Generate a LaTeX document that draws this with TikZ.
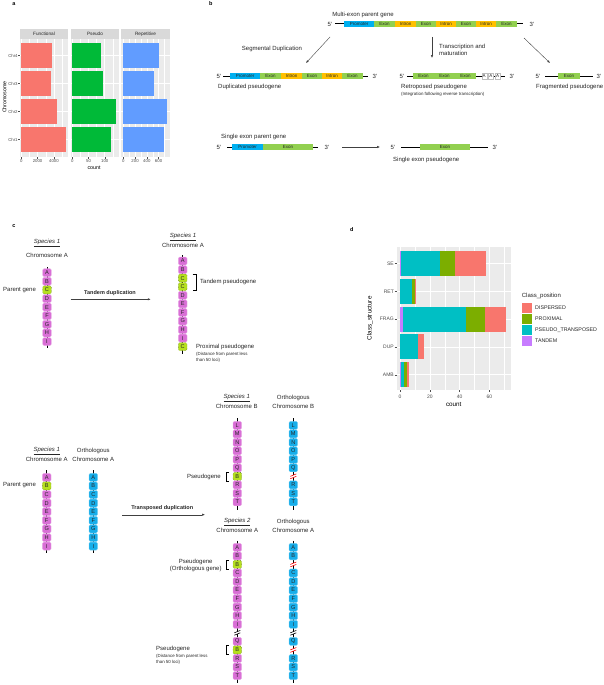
\documentclass[tikz,border=0pt]{standalone}
\usepackage{fontspec}
\setmainfont{Liberation Sans}
\usetikzlibrary{arrows.meta}

\definecolor{promcol}{HTML}{00B0F0}
\definecolor{exoncol}{HTML}{92D050}
\definecolor{introncol}{HTML}{FFC000}
\definecolor{chrpink}{HTML}{D96FD6}
\definecolor{chrgreen}{HTML}{B6E01F}
\definecolor{chrblue}{HTML}{17AEEA}
\definecolor{funccol}{HTML}{F8766D}
\definecolor{pseudocol}{HTML}{00BA38}
\definecolor{repcol}{HTML}{619CFF}
\definecolor{dispcol}{HTML}{F8766D}
\definecolor{proxcol}{HTML}{7CAE00}
\definecolor{ptcol}{HTML}{00BFC4}
\definecolor{tandcol}{HTML}{C77CFF}
\definecolor{panelbg}{HTML}{EBEBEB}
\definecolor{stripbg}{HTML}{D9D9D9}
\definecolor{tickcol}{HTML}{4D4D4D}
\definecolor{txtcol}{HTML}{262626}

\tikzset{
  plabel/.style={inner sep=0pt,text=txtcol,font=\fontsize{6}{7.5}\selectfont},
  pnote/.style={inner sep=0pt,text=txtcol,font=\fontsize{4.4}{6}\selectfont},
  pbold/.style={inner sep=0pt,text=txtcol,font=\bfseries\fontsize{5.5}{6}\selectfont},
  pletter/.style={inner sep=0pt,font=\bfseries\fontsize{5.5}{6}\selectfont},
  genebox/.style={rectangle,minimum height=5.5pt,inner sep=0pt,text=txtcol,font=\fontsize{4.5}{5}\selectfont},
  promoter/.style={genebox,fill=promcol},
  exon/.style={genebox,fill=exoncol},
  intron/.style={genebox,fill=introncol},
  polya/.style={genebox,minimum width=5pt,fill=white,draw=gray!50,line width=0.25pt},
  geneline/.style={line width=1pt},
  chrbox/.style={rectangle,rounded corners=1.3pt,minimum width=8.6pt,minimum height=8pt,inner sep=0pt,text=txtcol,font=\fontsize{5.6}{6}\selectfont},
  pbox/.style={chrbox,fill=chrpink,draw=chrpink!55!white,line width=0.3pt},
  bbox/.style={chrbox,fill=chrblue,draw=chrblue!55!white,line width=0.3pt},
  gbox/.style={chrbox,fill=chrgreen,draw=chrgreen!45!black,densely dotted,line width=0.4pt},
  chrline/.style={line width=0.9pt},
  flow/.style={draw=black!75,line width=0.4pt,-{Latex[length=2.8pt,width=2.2pt]}},
  bracket/.style={line width=0.4pt},
  gridmaj/.style={white,line width=0.5pt},
  gridmin/.style={white,line width=0.25pt},
  ggtick/.style={tickcol,line width=0.4pt},
  ggtext/.style={inner sep=0pt,text=tickcol,font=\fontsize{4.3}{5}\selectfont},
  ggtitle/.style={inner sep=0pt,text=black,font=\fontsize{5.3}{6}\selectfont},
  ggstrip/.style={inner sep=0pt,text=txtcol,font=\fontsize{4.7}{5}\selectfont},
  ddtext/.style={inner sep=0pt,text=tickcol,font=\fontsize{5}{6}\selectfont},
  ddlegend/.style={inner sep=0pt,text=txtcol,font=\fontsize{5.3}{6}\selectfont},
  brk/.pic={
    \fill[white] (-1.2,-0.72) -- (1.2,-1.68) -- (1.2,0.72) -- (-1.2,1.68) -- cycle;
    \draw[line width=0.6pt] (-3,0) -- (3,-2.4);
    \draw[line width=0.6pt] (-3,2.4) -- (3,0);
  }
}

\begin{document}
\begin{tikzpicture}[x=1pt,y=-1pt]
\useasboundingbox[fill=white] (0,0) rectangle (604,685);

\node[pletter] (la) at (14,4) {a};
\fill[stripbg] (20,29.3) rectangle (68,38.7);
\fill[stripbg] (71,29.3) rectangle (119,38.7);
\fill[stripbg] (121,29.3) rectangle (170,38.7);
\node[ggstrip] (sfunc) at (44,34) {Functional};
\node[ggstrip] (spseudo) at (95,34) {Pseudo};
\node[ggstrip] (srep) at (145.5,34) {Repetitive};
\fill[panelbg] (20,39) rectangle (68,157);
\fill[panelbg] (71,39) rectangle (119,157);
\fill[panelbg] (121,39) rectangle (170,157);
\foreach \r in {55.5,83.5,111.5,139.5} {
  \draw[gridmaj] (20,\r) -- (68,\r);
  \draw[gridmaj] (71,\r) -- (119,\r);
  \draw[gridmaj] (121,\r) -- (170,\r);
}
\foreach \r/\t in {55.5/Chr4,83.5/Chr3,111.5/Chr2,139.5/Chr1} {
  \draw[ggtick] (18.3,\r) -- (20,\r);
  \node[ggtext,anchor=east] (y\t) at (17.8,\r) {\t};
}
\begin{scope}[shift={(21.3,0)},x=8.15pt]
\foreach \v in {1,3,5} \draw[gridmin] (\v,39) -- (\v,157);
\foreach \v in {0,2,4} \draw[gridmaj] (\v,39) -- (\v,157);
\fill[funccol] (0,43) rectangle (3.77,68);
\fill[funccol] (0,71) rectangle (3.65,96);
\fill[funccol] (0,99) rectangle (4.38,124);
\fill[funccol] (0,127) rectangle (5.48,152);
\foreach \v/\t in {0/0,2/2000,4/4000} {
  \draw[ggtick] (\v,157) -- (\v,158.8);
  \node[ggtext] (fx\v) at (\v,161.5) {\t};
}
\end{scope}
\begin{scope}[shift={(72.3,0)},x=0.324pt]
\foreach \v in {25,75,125} \draw[gridmin] (\v,39) -- (\v,157);
\foreach \v in {0,50,100} \draw[gridmaj] (\v,39) -- (\v,157);
\fill[pseudocol] (0,43) rectangle (88.5,68);
\fill[pseudocol] (0,71) rectangle (94.6,96);
\fill[pseudocol] (0,99) rectangle (136,124);
\fill[pseudocol] (0,127) rectangle (118.5,152);
\foreach \v in {0,50,100} {
  \draw[ggtick] (\v,157) -- (\v,158.8);
  \node[ggtext] (px\v) at (\v,161.5) {\v};
}
\end{scope}
\begin{scope}[shift={(123.3,0)},x=0.0588pt]
\foreach \v in {100,300,500,700} \draw[gridmin] (\v,39) -- (\v,157);
\foreach \v in {0,200,400,600} \draw[gridmaj] (\v,39) -- (\v,157);
\fill[repcol] (0,43) rectangle (600,68);
\fill[repcol] (0,71) rectangle (515,96);
\fill[repcol] (0,99) rectangle (740,124);
\fill[repcol] (0,127) rectangle (700,152);
\foreach \v in {0,200,400,600} {
  \draw[ggtick] (\v,157) -- (\v,158.8);
  \node[ggtext] (rx\v) at (\v,161.5) {\v};
}
\end{scope}
\node[ggtitle] (acount) at (94,167.5) {count};
\node[ggtitle,rotate=90] (achrom) at (4.5,97) {Chromosome};

\node[pletter] (lb) at (210.7,4) {b};
\node[plabel] (mtitle) at (363,15) {Multi-exon parent gene};
\node[plabel] (m5) at (330,24) {5'};
\coordinate (m5e) at (335,24);
\coordinate (m3e) at (523,24);
\node[plabel] (m3) at (532,24) {3'};
\draw[geneline] (m5e) -- (m3e);
\node[promoter,minimum width=30pt] (m1) at (359,24) {Promoter};
\node[exon,minimum width=21pt] (m2) at (384.5,24) {Exon};
\node[intron,minimum width=21pt] (m3i) at (405.5,24) {Intron};
\node[exon,minimum width=20pt] (m4) at (426,24) {Exon};
\node[intron,minimum width=20pt] (m5i) at (446,24) {Intron};
\node[exon,minimum width=20pt] (m6) at (466,24) {Exon};
\node[intron,minimum width=20pt] (m7i) at (486,24) {Intron};
\node[exon,minimum width=21pt] (m8) at (506.5,24) {Exon};

\coordinate (segs) at (330,37);
\coordinate (sege) at (306,63);
\draw[flow] (segs) -- (sege);
\node[plabel] (seglbl) at (272,49) {Segmental Duplication};
\coordinate (trs) at (432,37);
\coordinate (tre) at (432,58);
\draw[flow] (trs) -- (tre);
\node[plabel,anchor=west,align=left] (trlbl) at (439,50) {Transcription and\\maturation};
\coordinate (frs) at (524,38);
\coordinate (fre) at (550,63);
\draw[flow] (frs) -- (fre);

\node[plabel] (dup5) at (219,76) {5'};
\coordinate (dup5e) at (223,76);
\coordinate (dup3e) at (368,76);
\node[plabel] (dup3) at (375,76) {3'};
\draw[geneline] (dup5e) -- (dup3e);
\node[promoter,minimum width=30pt] (dup1) at (245,76) {Promoter};
\node[exon,minimum width=21pt] (dup2) at (270.5,76) {Exon};
\node[intron,minimum width=21pt] (dup3i) at (291.5,76) {Intron};
\node[exon,minimum width=20pt] (dup4) at (312,76) {Exon};
\node[intron,minimum width=20pt] (dup5i) at (332,76) {Intron};
\node[exon,minimum width=21pt] (dup6) at (352.5,76) {Exon};
\node[plabel,anchor=west] (duplbl) at (218,87) {Duplicated pseudogene};

\node[plabel] (ret5) at (402,76) {5'};
\coordinate (ret5e) at (407,76);
\coordinate (ret3e) at (505,76);
\node[plabel] (ret3) at (512,76) {3'};
\draw[geneline] (ret5e) -- (ret3e);
\node[exon,minimum width=21pt] (ret1) at (423.5,76) {Exon};
\node[exon,minimum width=21pt] (ret2) at (444.5,76) {Exon};
\node[exon,minimum width=21pt] (ret3x) at (465.5,76) {Exon};
\node[polya] (reta1) at (484.2,76) {A};
\node[polya] (reta2) at (490.8,76) {A};
\node[polya] (reta3) at (497.5,76) {A};
\node[plabel,anchor=west] (retlbl) at (401,87) {Retroposed pseudogene};
\node[pnote,anchor=west] (retnote) at (401,94.3) {(Integration following reverse transcription)};

\node[plabel] (frg5) at (538,76) {5'};
\coordinate (frg5e) at (545,76);
\coordinate (frg3e) at (593,76);
\node[plabel] (frg3) at (599,76) {3'};
\draw[geneline] (frg5e) -- (frg3e);
\node[exon,minimum width=22pt] (frg1) at (569,76) {Exon};
\node[plabel,anchor=west] (frglbl) at (536,87) {Fragmented pseudogene};

\node[plabel,anchor=west] (sglbl) at (221,137) {Single exon parent gene};
\node[plabel] (sg5) at (219,147) {5'};
\coordinate (sg5e) at (227,147);
\coordinate (sg3e) at (318,147);
\node[plabel] (sg3) at (327,147) {3'};
\draw[geneline] (sg5e) -- (sg3e);
\node[promoter,minimum width=31pt] (sg1) at (247.5,147) {Promoter};
\node[exon,minimum width=50pt] (sg2) at (288,147) {Exon};
\coordinate (sgs) at (342,147);
\coordinate (sge) at (380,147);
\draw[flow] (sgs) -- (sge);
\node[plabel] (sp5) at (393,147) {5'};
\coordinate (sp5e) at (401,147);
\coordinate (sp3e) at (488,147);
\node[plabel] (sp3) at (495,147) {3'};
\draw[geneline] (sp5e) -- (sp3e);
\node[exon,minimum width=50pt] (sp1) at (445,147) {Exon};
\node[plabel,anchor=west] (splbl) at (393,160) {Single exon pseudogene};

\node[pletter] (lc) at (14,226) {c};
\node[plabel] (c1sp) at (47,243) {\underline{\itshape Species 1}};
\node[plabel] (c1ch) at (47,255) {Chromosome A};
\coordinate (c1t) at (47,267);
\coordinate (c1b) at (47,348);
\draw[chrline] (c1t) -- (c1b);
\foreach \l/\s [count=\i from 0] in {A/pbox,B/pbox,C/gbox,D/pbox,E/pbox,F/pbox,G/pbox,H/pbox,I/pbox}
  \node[\s] (c1g\i) at (47,{272.7+8.6*\i}) {\l};
\node[plabel,anchor=west] (c1par) at (3,290) {Parent gene};
\node[pbold] (tdlbl) at (110,293) {Tandem duplication};
\coordinate (tds) at (70.7,299.3);
\coordinate (tde) at (150.7,299.3);
\draw[flow] (tds) -- (tde);

\node[plabel] (c2sp) at (183,236.7) {\underline{\itshape Species 1}};
\node[plabel] (c2ch) at (183,245.7) {Chromosome A};
\coordinate (c2t) at (182.7,255);
\coordinate (c2b) at (182.7,354);
\draw[chrline] (c2t) -- (c2b);
\foreach \l/\s [count=\i from 0] in {A/pbox,B/pbox,C/gbox,C/gbox,D/pbox,E/pbox,F/pbox,G/pbox,H/pbox,I/pbox,C/gbox}
  \node[\s] (c2g\i) at (182.7,{261+8.57*\i}) {\l};
\draw[bracket] (192.5,274) -- (196.5,274) -- (196.5,290) -- (192.5,290);
\node[plabel,anchor=west] (tdpse) at (200,281.7) {Tandem pseudogene};
\node[plabel,anchor=west] (prpse) at (196,347.3) {Proximal pseudogene};
\node[pnote,anchor=north west,align=left] (prnote) at (196,352.5) {(Distance from parent less\\than 50 loci)};

\node[plabel] (c3sp) at (46.7,451) {\underline{\itshape Species 1}};
\node[plabel] (c3ch) at (46.7,459.3) {Chromosome A};
\coordinate (c3t) at (46.7,470);
\coordinate (c3b) at (46.7,553.3);
\draw[chrline] (c3t) -- (c3b);
\foreach \l/\s [count=\i from 0] in {A/pbox,B/gbox,C/pbox,D/pbox,E/pbox,F/pbox,G/pbox,H/pbox,I/pbox}
  \node[\s] (c3g\i) at (46.7,{477.3+8.6*\i}) {\l};
\node[plabel,anchor=west] (c3par) at (3,485) {Parent gene};
\node[plabel] (c4or) at (93.3,451) {Orthologous};
\node[plabel] (c4ch) at (93.3,459.3) {Chromosome A};
\coordinate (c4t) at (93.3,470);
\coordinate (c4b) at (93.3,553.3);
\draw[chrline] (c4t) -- (c4b);
\foreach \l [count=\i from 0] in {A,B,C,D,E,F,G,H,I}
  \node[bbox] (c4g\i) at (93.3,{477.3+8.6*\i}) {\l};
\node[pbold] (trlbl2) at (162.3,508.3) {Transposed duplication};
\coordinate (tps) at (122,514.7);
\coordinate (tpe) at (205,514.7);
\draw[flow] (tps) -- (tpe);

\node[plabel] (c5sp) at (236.7,398.3) {\underline{\itshape Species 1}};
\node[plabel] (c5ch) at (236.7,406.7) {Chromosome B};
\coordinate (c5t) at (237.3,418.3);
\coordinate (c5b) at (237.3,510);
\draw[chrline] (c5t) -- (c5b);
\foreach \l/\s [count=\i from 0] in {L/pbox,M/pbox,N/pbox,O/pbox,P/pbox,Q/pbox,B/gbox,R/pbox,S/pbox,T/pbox}
  \node[\s] (c5g\i) at (237.3,{425.3+8.5*\i}) {\l};
\draw[bracket] (229,472) -- (226.5,472) -- (226.5,481) -- (229,481);
\node[plabel,anchor=east] (c5pse) at (221,476.7) {Pseudogene};
\node[plabel] (c6or) at (293.3,398.3) {Orthologous};
\node[plabel] (c6ch) at (293.3,406.7) {Chromosome B};
\coordinate (c6t) at (293.3,418.3);
\coordinate (c6b) at (293.3,510);
\draw[chrline] (c6t) -- (c6b);
\foreach \l/\k in {L/0,M/1,N/2,O/3,P/4,Q/5,R/7,S/8,T/9}
  \node[bbox] (c6g\k) at (293.3,{425.3+8.5*\k}) {\l};
\pic[red] at (293.3,476.3) {brk};

\node[plabel] (c7sp) at (237.3,521.7) {\underline{\itshape Species 2}};
\node[plabel] (c7ch) at (237.3,530) {Chromosome A};
\coordinate (c7t) at (237.3,540.7);
\coordinate (c7b) at (237.3,683.3);
\draw[chrline] (c7t) -- (c7b);
\foreach \l/\s/\k in {A/pbox/0,B/pbox/1,B/gbox/2,C/pbox/3,D/pbox/4,E/pbox/5,F/pbox/6,G/pbox/7,H/pbox/8,I/pbox/9,Q/pbox/11,B/gbox/12,R/pbox/13,S/pbox/14,T/pbox/15}
  \node[\s] (c7g\k) at (237.3,{547.3+8.55*\k}) {\l};
\pic at (237.3,632.8) {brk};
\draw[bracket] (229,560) -- (226.5,560) -- (226.5,569) -- (229,569);
\node[plabel,align=center] (c7pse) at (195.7,565.5) {Pseudogene\\(Orthologous gene)};
\draw[bracket] (229,645.5) -- (226.5,645.5) -- (226.5,654.5) -- (229,654.5);
\node[plabel,anchor=west] (c7pse2) at (156,649.3) {Pseudogene};
\node[pnote,anchor=north west,align=left] (c7note) at (156,654.5) {(Distance from parent less\\than 50 loci)};
\node[plabel] (c8or) at (293.3,521.7) {Orthologous};
\node[plabel] (c8ch) at (293.3,530) {Chromosome A};
\coordinate (c8t) at (293.3,540.7);
\coordinate (c8b) at (293.3,683.3);
\draw[chrline] (c8t) -- (c8b);
\foreach \l/\k in {A/0,B/1,C/3,D/4,E/5,F/6,G/7,H/8,I/9,Q/11,R/13,S/14,T/15}
  \node[bbox] (c8g\k) at (293.3,{547.3+8.55*\k}) {\l};
\pic[red] at (293.3,564.4) {brk};
\pic at (293.3,632.8) {brk};
\pic[red] at (293.3,649.9) {brk};

\node[pletter] (ld) at (351.7,230) {d};
\fill[panelbg] (396.7,246.7) rectangle (510.7,390);
\foreach \r/\t in {263.5/SE,291.3/RET,319.1/FRAG,346.9/DUP,374.7/AMB} {
  \draw[gridmaj] (396.7,\r) -- (510.7,\r);
  \draw[ggtick] (394.6,\r) -- (396.7,\r);
  \node[ddtext,anchor=east] (dy\t) at (394,\r) {\t};
}
\begin{scope}[shift={(400,0)},x=1.49pt]
\foreach \v in {10,30,50,70} \draw[gridmin] (\v,246.7) -- (\v,390);
\foreach \v in {0,20,40,60} {
  \draw[gridmaj] (\v,246.7) -- (\v,390);
  \draw[ggtick] (\v,390) -- (\v,392);
  \node[ddtext] (dx\v) at (\v,396.5) {\v};
}
\fill[tandcol] (0,251) rectangle (1,276);
\fill[ptcol] (1,251) rectangle (27,276);
\fill[proxcol] (27,251) rectangle (37,276);
\fill[dispcol] (37,251) rectangle (58,276);
\fill[ptcol] (0,278.8) rectangle (8,303.8);
\fill[proxcol] (8,278.8) rectangle (10,303.8);
\fill[dispcol] (10,278.8) rectangle (11,303.8);
\fill[tandcol] (0,306.6) rectangle (2,331.6);
\fill[ptcol] (2,306.6) rectangle (44,331.6);
\fill[proxcol] (44,306.6) rectangle (57,331.6);
\fill[dispcol] (57,306.6) rectangle (71,331.6);
\fill[ptcol] (0,334.4) rectangle (12,359.4);
\fill[dispcol] (12,334.4) rectangle (16,359.4);
\fill[tandcol] (0,362.2) rectangle (1,387.2);
\fill[ptcol] (1,362.2) rectangle (3,387.2);
\fill[proxcol] (3,362.2) rectangle (5,387.2);
\fill[dispcol] (5,362.2) rectangle (6,387.2);
\end{scope}
\node[ggtitle,font=\fontsize{6.3}{7}\selectfont] (dcount) at (453.7,404) {count};
\node[ggtitle,font=\fontsize{6.3}{7}\selectfont,rotate=90] (dstruct) at (370,318.3) {Class\_structure};
\node[ddlegend,anchor=west,font=\fontsize{6}{7}\selectfont] (dleg) at (521.7,296) {Class\_position};
\foreach \c/\t/\r in {dispcol/DISPERSED/308,proxcol/PROXIMAL/319,ptcol/PSEUDO\_TRANSPOSED/330,tandcol/TANDEM/341} {
  \fill[\c] (521.7,\r-5) rectangle (531.7,\r+5);
  \node[ddlegend,anchor=west] (dk\r) at (535,\r) {\t};
}
\end{tikzpicture}
\end{document}
